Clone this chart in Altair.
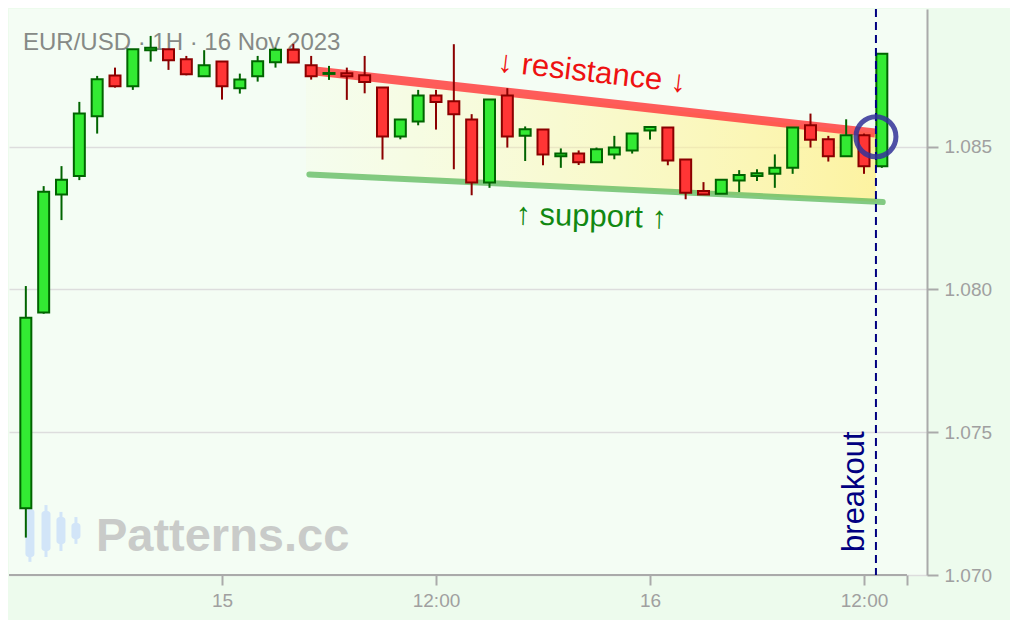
import altair as alt
import pandas as pd

# ---------------- data ----------------
# hours relative to 15 Nov 2023 00:00 (candle 1 = 14 Nov 13:00)
hours = list(range(-11, 38))
opens = [1.07234, 1.07919, 1.08333, 1.08397, 1.08607, 1.08749, 1.08712, 1.08838, 1.08841, 1.08806,
         1.08747, 1.08798, 1.08705, 1.08747, 1.08796, 1.08840, 1.08785, 1.08755, 1.08757, 1.08750,
         1.08707, 1.08536, 1.08588, 1.08679, 1.08659, 1.08595, 1.08375, 1.08679, 1.08538, 1.08560,
         1.08467, 1.08476, 1.08446, 1.08473, 1.08487, 1.08557, 1.08567, 1.08455, 1.08345, 1.08335,
         1.08382, 1.08397, 1.08405, 1.08426, 1.08575, 1.08526, 1.08467, 1.08540, 1.08432]
highs = [1.08012, 1.08362, 1.08432, 1.08657, 1.08748, 1.08777, 1.08842, 1.08888, 1.08842, 1.08818,
         1.08838, 1.08798, 1.08756, 1.08818, 1.08847, 1.08860, 1.08818, 1.08783, 1.08777, 1.08818,
         1.08707, 1.08595, 1.08699, 1.08699, 1.08859, 1.08614, 1.08665, 1.08705, 1.08571, 1.08560,
         1.08494, 1.08487, 1.08497, 1.08538, 1.08546, 1.08571, 1.08567, 1.08455, 1.08376, 1.08384,
         1.08418, 1.08421, 1.08473, 1.08567, 1.08616, 1.08538, 1.08596, 1.08546, 1.08826]
lows = [1.07131, 1.07915, 1.08243, 1.08383, 1.08546, 1.08707, 1.08699, 1.08798, 1.08769, 1.08750,
        1.08747, 1.08665, 1.08686, 1.08728, 1.08777, 1.08795, 1.08735, 1.08734, 1.08664, 1.08687,
        1.08455, 1.08526, 1.08575, 1.08560, 1.08421, 1.08330, 1.08356, 1.08497, 1.08450, 1.08435,
        1.08426, 1.08436, 1.08446, 1.08456, 1.08476, 1.08525, 1.08435, 1.08316, 1.08333, 1.08335,
        1.08341, 1.08380, 1.08356, 1.08405, 1.08497, 1.08448, 1.08467, 1.08405, 1.08426]
closes = [1.07901, 1.08342, 1.08384, 1.08616, 1.08736, 1.08712, 1.08841, 1.08847, 1.08803, 1.08754,
          1.08785, 1.08712, 1.08735, 1.08799, 1.08840, 1.08795, 1.08747, 1.08758, 1.08747, 1.08727,
          1.08536, 1.08595, 1.08679, 1.08657, 1.08614, 1.08375, 1.08665, 1.08536, 1.08561, 1.08473,
          1.08476, 1.08446, 1.08491, 1.08497, 1.08546, 1.08569, 1.08452, 1.08339, 1.08333, 1.08384,
          1.08401, 1.08407, 1.08426, 1.08567, 1.08524, 1.08467, 1.08540, 1.08432, 1.08826]

res_h = [4.71, 36.62]
res_v = [1.08769, 1.08548]
sup_h = [4.90, 37.05]
sup_v = [1.08403, 1.08306]
zone_h = [4.71, 36.67]
zone_top = [1.08769, 1.08548]
zone_bot = [1.08404, 1.08307]

breakout_h = [36.67]
circle_h = [36.67]
circle_v = [1.08535]

x_ticks = [0, 12, 24, 36, 38.41]
x_labels = ["15", "12:00", "16", "12:00", ""]
y_ticks = [1.070, 1.075, 1.080, 1.085]

# watermark icon candles
wm_h = [-10.77, -9.87, -9.03, -8.19]
wm_body_lo = [1.07063, 1.07084, 1.07109, 1.07126]
wm_body_hi = [1.07231, 1.07224, 1.07203, 1.07182]
wm_wick_lo = [1.07046, 1.07063, 1.07084, 1.07109]
wm_wick_hi = [1.07242, 1.07245, 1.07221, 1.07203]

X_DOMAIN = [-11.944, 39.533]
Y_DOMAIN = [1.070, 1.089823]
FONT = "Liberation Sans"

# ---------------- frames ----------------
df = pd.DataFrame({"h": hours, "open": opens, "high": highs, "low": lows, "close": closes})
df["dir"] = ["up" if c >= o else "down" for o, c in zip(opens, closes)]

xs = alt.Scale(domain=X_DOMAIN, nice=False, zero=False, padding=0)
ys = alt.Scale(domain=Y_DOMAIN, nice=False, zero=False, padding=0)

label_expr = "''"
for v, l in zip(x_ticks, x_labels):
    label_expr = f"datum.value == {v} ? '{l}' : (" + label_expr + ")"

x_axis = alt.Axis(values=x_ticks, labelExpr=label_expr, grid=False, domain=False,
                  tickSize=10, tickWidth=2, tickColor="#aaaaaa", labelColor="#a0a0a0",
                  labelFontSize=19, labelPadding=6, labelFont=FONT, title=None)
y_axis = alt.Axis(orient="right", values=y_ticks, format=".3f", grid=True,
                  gridColor="#dddddd", gridWidth=1.5, domainColor="#aaaaaa", domainWidth=2,
                  tickColor="#aaaaaa", tickWidth=2, tickSize=11, labelPadding=6,
                  labelColor="#a0a0a0", labelFontSize=19, labelFont=FONT, title=None)

def X(field):
    return alt.X(field, type="quantitative", scale=xs, axis=x_axis)

def Y(field):
    return alt.Y(field, type="quantitative", scale=ys, axis=y_axis)

# x-domain line drawn manually (it stops short of the right axis)
axis_df = pd.DataFrame({"h1": [X_DOMAIN[0]], "h2": [38.41], "v": [1.070]})
axis_layer = alt.Chart(axis_df).mark_rule(color="#aaaaaa", strokeWidth=2).encode(
    x=X("h1"), x2="h2:Q", y=Y("v"))

wm_df = pd.DataFrame({"h": wm_h, "blo": wm_body_lo, "bhi": wm_body_hi,
                      "wlo": wm_wick_lo, "whi": wm_wick_hi})
wm_wick = alt.Chart(wm_df).mark_rule(color="#d2e5f8", strokeWidth=3).encode(
    x=X("h"), y=Y("wlo"), y2="whi")
wm_body = alt.Chart(wm_df).mark_bar(color="#d2e5f8", size=9, cornerRadius=3).encode(
    x=X("h"), y=Y("blo"), y2="bhi")
wm_text = alt.Chart(pd.DataFrame({"h": [-7.07], "v": [1.07084], "t": ["Patterns.cc"]})).mark_text(
    align="left", baseline="alphabetic", fontSize=47, fontWeight="bold", font=FONT,
    color="#c9cbc9").encode(x=X("h"), y=Y("v"), text="t:N")

title_layer = alt.Chart(pd.DataFrame({"h": [-11.16], "v": [1.08839],
                                      "t": ["EUR/USD · 1H · 16 Nov 2023"]})).mark_text(
    align="left", baseline="alphabetic", fontSize=24, font=FONT, color="#868a86").encode(
    x=X("h"), y=Y("v"), text="t:N")

zone_df = pd.DataFrame({"h": zone_h, "top": zone_top, "bot": zone_bot})
zone = alt.Chart(zone_df).mark_area(
    color=alt.Gradient(gradient="linear", x1=0, x2=1, y1=0, y2=0,
                       stops=[alt.GradientStop(offset=0, color="rgba(255,250,170,0.08)"),
                              alt.GradientStop(offset=1, color="rgba(255,240,140,0.8)")])
).encode(x=X("h"), y=Y("top"), y2="bot")

sup_line = alt.Chart(pd.DataFrame({"h": sup_h, "v": sup_v})).mark_line(
    color="#5cb85c", strokeWidth=6, opacity=0.75, strokeCap="round").encode(x=X("h"), y=Y("v"))
res_line = alt.Chart(pd.DataFrame({"h": res_h, "v": res_v})).mark_line(
    color="#ff4040", strokeWidth=9, opacity=0.85, strokeCap="butt").encode(x=X("h"), y=Y("v"))

dirs = ["up", "down"]
wicks = alt.Chart(df).mark_rule(strokeWidth=2).encode(
    x=X("h"), y=Y("low"), y2="high",
    color=alt.Color("dir:N", scale=alt.Scale(domain=dirs, range=["#006400", "#8b0000"]), legend=None))
bodies = alt.Chart(df).mark_bar(size=11, strokeWidth=2).encode(
    x=X("h"), y=Y("open"), y2="close",
    fill=alt.Fill("dir:N", scale=alt.Scale(domain=dirs, range=["#33ea33", "#ff3535"]), legend=None),
    stroke=alt.Stroke("dir:N", scale=alt.Scale(domain=dirs, range=["#006400", "#8b0000"]), legend=None))

breakout = alt.Chart(pd.DataFrame({"h": breakout_h})).mark_rule(
    color="#000080", strokeDash=[8, 5], strokeWidth=2).encode(x=X("h"))

circle = alt.Chart(pd.DataFrame({"h": circle_h, "v": circle_v})).mark_point(
    shape="circle", size=1600, filled=False, stroke="#333399", strokeWidth=5, opacity=0.85
).encode(x=X("h"), y=Y("v"))

res_text = alt.Chart(pd.DataFrame({"h": [20.69], "v": [1.08727], "t": ["↓ resistance ↓"]})).mark_text(
    align="center", baseline="alphabetic", fontSize=31, font=FONT, color="#ee1111", angle=6.5
).encode(x=X("h"), y=Y("v"), text="t:N")
sup_text = alt.Chart(pd.DataFrame({"h": [20.69], "v": [1.08222], "t": ["↑ support ↑"]})).mark_text(
    align="center", baseline="alphabetic", fontSize=31, font=FONT, color="#118811", angle=1.5
).encode(x=X("h"), y=Y("v"), text="t:N")
brk_text = alt.Chart(pd.DataFrame({"h": [35.50], "v": [1.07292], "t": ["breakout"]})).mark_text(
    align="center", baseline="middle", fontSize=31, font=FONT, color="#000080", angle=270
).encode(x=X("h"), y=Y("v"), text="t:N")

chart = alt.layer(
    axis_layer, wm_wick, wm_body, wm_text, title_layer, zone, sup_line, res_line,
    wicks, bodies, breakout, circle, res_text, sup_text, brk_text
).properties(
    width=918, height=566,
    padding={"left": 0, "top": 0, "right": 18, "bottom": 10},
    background="#edfbed"
).configure_view(
    fill="#f4fdf4", strokeWidth=0
)

chart.save("out.html", embed_options={"renderer": "svg", "actions": False})
